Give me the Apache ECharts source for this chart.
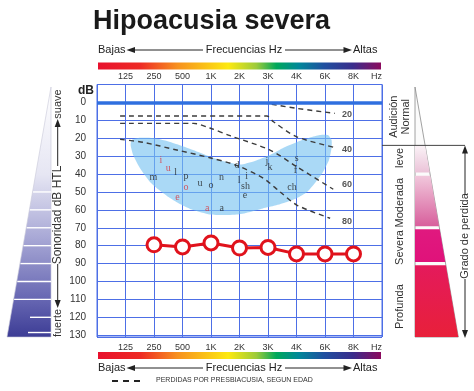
<!DOCTYPE html>
<html><head><meta charset="utf-8">
<script src="https://cdn.jsdelivr.net/npm/echarts@6/dist/echarts.min.js"></script>
<style>html,body{margin:0;padding:0;background:#fff}#c{width:474px;height:391px}</style>
</head><body><div id="c"></div>
<script>
// ---------- data ----------
const freqLabels = ['', '125', '250', '500', '1K', '2K', '3K', '4K', '6K', '8K', 'Hz'];
const audioX = [2, 3, 4, 5, 6, 7, 8, 9];
const audioDb = [79.5, 80.7, 78.5, 81.3, 81, 84.6, 84.6, 84.6];

const bananaX = [1.22, 1.51, 1.96, 2.39, 2.81, 3.37, 3.96, 4.49, 5.02, 5.54, 6.07, 6.56, 7.02, 7.47, 7.82, 8.10, 8.23, 8.23, 8.14, 7.93, 7.65, 7.37, 7.02, 6.67, 6.25, 5.82, 5.37, 4.95, 4.39, 3.96, 3.37, 2.91, 2.56, 2.18, 1.86, 1.51, 1.27, 1.18];
const bananaY = [21.0, 19.8, 19.9, 21.3, 23.4, 26.6, 30.3, 33.0, 34.7, 32.7, 29.4, 25.2, 22.1, 19.6, 18.2, 18.2, 21.0, 25.5, 32.2, 38.9, 45.0, 50.0, 53.4, 55.6, 57.6, 59.2, 61.2, 62.6, 62.9, 62.6, 60.1, 56.7, 53.4, 48.9, 44.4, 36.8, 29.4, 23.8];

const presb20 = [[5.82, 0.2], [7.0, 3.3], [8.35, 6.1]];
const presb40 = [[0.81, 7.6], [5.96, 7.6], [6.19, 10.8], [7.01, 19.2], [8.3, 25.0]];
const presb60 = [[0.81, 11.7], [3.38, 11.7], [3.96, 14.3], [4.67, 18.6], [6.07, 26.6], [7.01, 35.9], [8.29, 48.5]];
const presb80 = [[0.81, 20.6], [1.62, 22.3], [2.8, 26.6], [3.96, 30.9], [4.9, 35.2], [5.84, 42.4], [6.42, 49.9], [7.01, 57.3], [8.18, 64.7]];
const ageLabels = ['20', '40', '60', '80'];
const ageLabelX = [8.77, 8.77, 8.77, 8.77];
const ageLabelY = [6.5, 26.2, 46.1, 66.6];

const phonemes  = ['i', 'u', 'l', 'm', 'p', 'o', 'u', 'o', 'n', 'e', 'a', 'a', 'd', 'l', 'i', 'sh', 'e', 'j', 'k', 's', 'f', 'ch'];
const phonemeX  = [2.24, 2.5, 2.76, 1.98, 3.12, 3.12, 3.61, 4.0, 4.37, 2.82, 3.87, 4.38, 4.91, 4.99, 5.25, 5.21, 5.19, 5.96, 6.07, 7.01, 6.96, 6.84];
const phonemeY  = [32.2, 36.8, 39.3, 41.8, 41.5, 47.6, 45.4, 46.4, 41.9, 53.1, 59.2, 59.2, 35.0, 43.6, 41.5, 47.1, 51.7, 33.1, 36.5, 31.2, 37.7, 47.6];
const phonemeRed = [1, 1, 0, 0, 0, 1, 0, 0, 0, 1, 1, 0, 0, 0, 0, 0, 0, 0, 0, 0, 0, 0];

const lossLabels = ['Audición\nNormal', 'leve', 'Moderada', 'Severa', 'Profunda'];
const lossLabelDb = [8, 31, 56, 81, 114];
const lossEdges = [24, 40, 70, 90];
const loudLines = [50, 60, 70, 80, 90, 100, 110];

// ---------- styles ----------
const GRID = '#4d6fe6';
const RED = '#e0121c';
const FONT = '"Liberation Sans", Arial, sans-serif';

const chart = echarts.init(document.getElementById('c'), null, {renderer: 'canvas'});

function xAxisCfg(pos, margin, split) {
  return {
    type: 'value', position: pos, min: 0, max: 10, interval: 1,
    axisLine: {show: false}, axisTick: {show: false},
    splitLine: {show: split, lineStyle: {color: GRID, width: 1}},
    axisLabel: {
      formatter: v => freqLabels[Math.round(v)] || '',
      fontSize: 9, color: '#333', margin: margin, fontFamily: FONT,
      alignMaxLabel: 'right'
    }
  };
}

const option = {
  animation: false,
  grid: {left: 97, top: 84.5, width: 285, height: 252.5, show: true, borderColor: GRID, borderWidth: 1},
  xAxis: [xAxisCfg('top', 3, true), xAxisCfg('bottom', 6, false)],
  yAxis: {
    type: 'value', inverse: true, min: -10, max: 131, interval: 10,
    axisLine: {show: false}, axisTick: {show: false},
    splitLine: {lineStyle: {color: GRID, width: 1}},
    axisLabel: {
      formatter: v => (v >= 0 && v <= 130 && v % 10 === 0) ? String(v) : '',
      fontSize: 10, color: '#333', margin: 11, fontFamily: FONT
    }
  },
  series: [
    {
      type: 'custom', silent: true, z: 1,
      data: [[0, 0]],
      renderItem: function (params, api) {
        const pts = bananaX.map((x, i) => api.coord([x, bananaY[i]]));
        return {type: 'polygon', shape: {points: pts, smooth: 0.2},
          style: {fill: 'rgba(118,194,240,0.62)'}};
      }
    },
    ...[presb20, presb40, presb60, presb80].map(d => ({
      type: 'line', data: d, showSymbol: false, symbol: 'none', smooth: 0.3, silent: true, z: 3,
      lineStyle: {color: '#3c3c3c', width: 1.4, type: [5, 4]}
    })),
    {
      type: 'scatter', silent: true, z: 4, symbolSize: 1,
      itemStyle: {color: 'rgba(0,0,0,0)'},
      data: ageLabels.map((t, i) => ({name: t, value: [ageLabelX[i], ageLabelY[i]]})),
      label: {show: true, position: 'inside', formatter: '{b}', fontSize: 9, fontWeight: 'bold', color: '#2a2a2a', fontFamily: FONT}
    },
    {
      type: 'scatter', silent: true, z: 4, symbolSize: 1,
      itemStyle: {color: 'rgba(0,0,0,0)'},
      data: phonemes.map((t, i) => ({
        name: t, value: [phonemeX[i], phonemeY[i]],
        label: {color: phonemeRed[i] ? '#d8343c' : '#1e1e1e'}
      })),
      label: {show: true, position: 'inside', formatter: '{b}', fontSize: 10, fontFamily: '"Liberation Serif", "Times New Roman", serif'}
    },
    {
      type: 'line', z: 5, silent: true,
      data: audioX.map((x, i) => [x, audioDb[i]]),
      symbol: 'circle', symbolSize: 14,
      itemStyle: {color: '#ffffff', borderColor: RED, borderWidth: 3},
      lineStyle: {color: RED, width: 3},
      markLine: {
        silent: true, symbol: 'none', label: {show: false},
        lineStyle: {color: '#2f6fdf', width: 3.5, type: 'solid'},
        data: [{yAxis: 0}]
      }
    }
  ]
};
chart.setOption(option);

// ---------- decorations ----------
const yp = v => chart.convertToPixel({yAxisIndex: 0}, v);
const gTop = 87, gBot = yp(131);
const G = [];
function txt(t, x, y, size, opts) {
  opts = opts || {};
  G.push({type: 'text', x: x, y: y, rotation: opts.rot || 0, silent: true, z: 10,
    style: {text: t, font: (opts.bold ? 'bold ' : '') + size + 'px ' + FONT, fill: opts.color || '#333',
      align: opts.align || 'center', textAlign: opts.align || 'center',
      verticalAlign: 'middle', textVerticalAlign: 'middle', lineHeight: opts.lh || size + 1}});
}
function line(x1, y1, x2, y2, color, w) {
  G.push({type: 'line', silent: true, z: 10, shape: {x1, y1, x2, y2}, style: {stroke: color || '#222', lineWidth: w || 1}});
}
function poly(points, fill, z) {
  G.push({type: 'polygon', silent: true, z: z || 9, shape: {points: points}, style: {fill: fill}});
}

// title
txt('Hipoacusia severa', 211.5, 22, 27, {bold: true, color: '#1a1a1a'});

// frequency header/footer
[50, 368].forEach(y => {
  txt('Bajas', 98, y, 11, {align: 'left', color: '#222'});
  line(132, y, 203, y, '#222', 1);
  poly([[126.5, y], [135, y - 3], [135, y + 3]], '#222', 10);
  txt('Frecuencias Hz', 244, y, 11, {color: '#222'});
  line(285, y, 346, y, '#222', 1);
  poly([[352, y], [343.5, y - 3], [343.5, y + 3]], '#222', 10);
  txt('Altas', 353, y, 11, {align: 'left', color: '#222'});
});

// rainbow bars
const rainbow = () => new echarts.graphic.LinearGradient(0, 0, 1, 0, [
  {offset: 0, color: '#e8112d'}, {offset: 0.15, color: '#ee2a24'}, {offset: 0.28, color: '#f7901e'},
  {offset: 0.46, color: '#fde910'}, {offset: 0.56, color: '#9ccb3b'}, {offset: 0.63, color: '#00a85a'},
  {offset: 0.71, color: '#00879a'}, {offset: 0.8, color: '#1f4fa0'}, {offset: 0.9, color: '#3a2d8c'},
  {offset: 1, color: '#8c0a5e'}]);
G.push({type: 'rect', silent: true, shape: {x: 98, y: 62.5, width: 283, height: 7}, style: {fill: rainbow()}});
G.push({type: 'rect', silent: true, shape: {x: 98, y: 352, width: 283, height: 7}, style: {fill: rainbow()}});

// dB label
txt('dB', 94, 91, 12, {bold: true, align: 'right', color: '#222'});

// left loudness triangle
const lhx = y => 51 - 44 * (y - gTop) / (gBot - gTop);
G.push({type: 'polygon', silent: true, z: 8, shape: {points: [[51, gTop], [51, gBot], [7, gBot]]},
  style: {fill: new echarts.graphic.LinearGradient(0, 0, 0, 1, [
    {offset: 0, color: '#ffffff'}, {offset: 0.35, color: '#e6e6f3'}, {offset: 0.6, color: '#a9a9d6'},
    {offset: 0.85, color: '#6666b2'}, {offset: 1, color: '#3c3c95'}]), stroke: '#c8c8d8', lineWidth: 0.6}});
loudLines.forEach(v => { const y = yp(v); line(lhx(y) + 0.5, y, 51, y, '#ffffff', 1.4); });
line(30, yp(120), 51, yp(120), '#ffffff', 1.4);
line(28, yp(128.5), 51, yp(128.5), '#ffffff', 1.4);

// left arrow
const ax = 57.7;
txt('suave', ax, 104, 11, {rot: Math.PI / 2});
poly([[ax, 119], [ax - 3, 127], [ax + 3, 127]], '#222', 10);
line(ax, 126, ax, 166, '#222', 1);
txt('Sonoridad dB HTL', ax, 215, 12, {rot: Math.PI / 2});
line(ax, 264, ax, 301, '#222', 1);
poly([[ax, 308], [ax - 3, 300], [ax + 3, 300]], '#222', 10);
txt('fuerte', ax, 323, 11, {rot: Math.PI / 2});

// right loss triangle
const rhx = y => 415 + 43.3 * (y - gTop) / (gBot - gTop);
G.push({type: 'polygon', silent: true, z: 8, shape: {points: [[415, gTop], [415, gBot], [rhx(gBot), gBot]]},
  style: {fill: '#fbfbfb', stroke: '#8a8a8a', lineWidth: 0.8}});
const bandCols = [
  ['#faf3f7', '#ebc3d8'], ['#f1c8dc', '#d85f9c'], ['#e0197f', '#e0127a'], ['#e41a5c', '#e8203a']];
const edgesPx = lossEdges.map(yp).concat([gBot]);
for (let i = 0; i < 4; i++) {
  const a = edgesPx[i] + (i === 0 ? 0 : 1.6), b = edgesPx[i + 1] - (i === 3 ? 0 : 1.6);
  G.push({type: 'polygon', silent: true, z: 9, shape: {points: [[415, a], [rhx(a), a], [rhx(b), b], [415, b]]},
    style: {fill: new echarts.graphic.LinearGradient(0, 0, 0, 1, [
      {offset: 0, color: bandCols[i][0]}, {offset: 1, color: bandCols[i][1]}])}});
}
lossLabels.forEach((t, i) => txt(t, 400, yp(lossLabelDb[i]), 11, {rot: Math.PI / 2, lh: 12}));
const hy = yp(lossEdges[0]);
line(382, hy, 465, hy, '#444', 1);
poly([[465, hy], [462, hy + 8], [468, hy + 8]], '#222', 10);
line(465, hy + 6, 465, 194, '#222', 1);
txt('Grado de perdida', 465, 236, 11, {rot: Math.PI / 2});
line(465, 279, 465, gBot - 6, '#222', 1);
poly([[465, gBot + 1], [462, gBot - 7], [468, gBot - 7]], '#222', 10);

// legend
[112, 123, 134].forEach(x => line(x, 381, x + 6, 381, '#222', 2));
txt('PERDIDAS POR PRESBIACUSIA, SEGUN EDAD', 156, 380.5, 7, {align: 'left', color: '#333'});

chart.setOption({graphic: {elements: G}});
</script>
</body></html>
